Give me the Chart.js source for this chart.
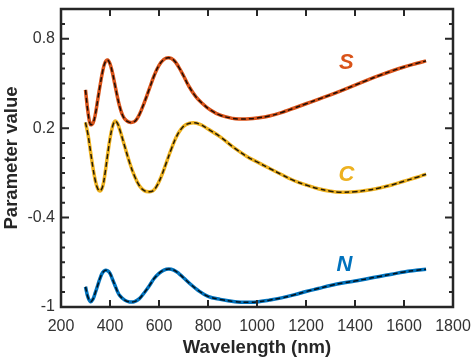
<!DOCTYPE html>
<html>
<head>
<meta charset="utf-8">
<script src="https://cdn.jsdelivr.net/npm/chart.js@4.4.0/dist/chart.umd.min.js"></script>
<style>
  html, body { margin: 0; padding: 0; background: #fff; }
  #wrap { width: 474px; height: 361px; }
</style>
</head>
<body>
<div id="wrap"><canvas id="paramChart" width="474" height="361"></canvas></div>
<script>
// Curvas S, C, N em função do comprimento de onda
const wlS = [300,310,320,330,340,350,360,370,380,390,400,410,420,430,440,450,460,475,490,505,520,540,560,580,600,620,640,660,680,700,720,750,780,810,850,900,930,970,1000,1050,1100,1150,1200,1250,1300,1350,1400,1450,1500,1550,1600,1650,1690];
const valS = [0.457,0.31,0.225,0.232,0.292,0.392,0.492,0.582,0.642,0.658,0.632,0.572,0.492,0.412,0.342,0.292,0.262,0.242,0.239,0.252,0.292,0.372,0.462,0.552,0.622,0.662,0.673,0.657,0.612,0.552,0.487,0.412,0.362,0.322,0.287,0.266,0.262,0.263,0.268,0.282,0.305,0.334,0.364,0.394,0.424,0.456,0.489,0.522,0.554,0.584,0.611,0.634,0.652];

const wlC = [300,310,320,330,340,350,360,370,380,390,400,410,420,430,440,460,480,500,520,540,560,575,590,610,630,650,670,690,710,740,770,800,850,910,960,1000,1050,1100,1150,1200,1250,1300,1340,1400,1450,1500,1550,1600,1650,1690];
const valC = [0.239,0.159,0.049,-0.061,-0.151,-0.206,-0.221,-0.191,-0.101,0.019,0.129,0.209,0.247,0.234,0.189,0.079,-0.031,-0.121,-0.186,-0.219,-0.226,-0.221,-0.191,-0.121,-0.031,0.059,0.139,0.194,0.224,0.236,0.224,0.194,0.142,0.064,0.009,-0.026,-0.069,-0.111,-0.151,-0.181,-0.206,-0.223,-0.230,-0.226,-0.216,-0.201,-0.181,-0.156,-0.131,-0.109];

const wlN = [300,310,320,330,340,350,360,370,380,390,400,410,420,430,440,460,480,500,520,540,560,580,600,620,640,660,680,700,730,760,800,850,910,970,1000,1050,1100,1150,1200,1250,1300,1350,1400,1450,1500,1550,1600,1650,1690];
const valN = [-0.864,-0.934,-0.964,-0.949,-0.904,-0.854,-0.804,-0.769,-0.754,-0.757,-0.774,-0.814,-0.854,-0.894,-0.924,-0.954,-0.966,-0.964,-0.944,-0.904,-0.859,-0.809,-0.774,-0.752,-0.745,-0.752,-0.774,-0.804,-0.849,-0.889,-0.929,-0.949,-0.964,-0.968,-0.966,-0.954,-0.939,-0.919,-0.896,-0.876,-0.856,-0.839,-0.826,-0.81,-0.795,-0.78,-0.765,-0.754,-0.746];

const xTicks = [200,400,600,800,1000,1200,1400,1600,1800];
const yTicks = [-1,-0.4,0.2,0.8];

const FONT = '"Liberation Sans", Arial, Helvetica, sans-serif';
const pts = (xs, ys) => xs.map((x, i) => ({ x: x, y: ys[i] }));

function par(xs, ys, cor) {
  return [
    { data: pts(xs, ys), borderColor: cor, borderWidth: 3.5, pointRadius: 0,
      tension: 0.4, order: 2 },
    { data: pts(xs, ys), borderColor: 'rgba(0,0,0,0.85)', borderWidth: 1.5, borderDash: [5, 3],
      pointRadius: 0, tension: 0.4, order: 1 }
  ];
}

// moldura e ticks para dentro, estilo MATLAB
const moldura = {
  id: 'moldura',
  afterDraw(chart) {
    const { ctx, chartArea: a, scales: { x, y } } = chart;
    ctx.save();
    ctx.strokeStyle = '#262626';
    ctx.lineWidth = 2.5;
    ctx.strokeRect(a.left, a.top, a.right - a.left, a.bottom - a.top);
    ctx.lineWidth = 2;
    ctx.beginPath();
    xTicks.forEach(v => {
      const px = x.getPixelForValue(v);
      ctx.moveTo(px, a.bottom); ctx.lineTo(px, a.bottom - 7);
      ctx.moveTo(px, a.top); ctx.lineTo(px, a.top + 7);
    });
    for (let i = 0; i <= 20; i++) {
      const v = -1 + i * 0.1;
      const py = y.getPixelForValue(v);
      const len = (i % 6 === 0) ? 8 : 4;
      ctx.moveTo(a.left, py); ctx.lineTo(a.left + len, py);
      ctx.moveTo(a.right, py); ctx.lineTo(a.right - len, py);
    }
    ctx.stroke();

    ctx.font = 'italic bold 22px ' + FONT;
    ctx.textAlign = 'center';
    ctx.textBaseline = 'middle';
    [['S', 1365, 0.638, '#d95319'], ['C', 1365, -0.114, '#edb120'], ['N', 1357, -0.718, '#0072bd']]
      .forEach(([t, lx, ly, c]) => {
        ctx.fillStyle = c;
        ctx.fillText(t, x.getPixelForValue(lx), y.getPixelForValue(ly));
      });
    ctx.restore();
  }
};

new Chart(document.getElementById('paramChart').getContext('2d'), {
  type: 'line',
  data: {
    datasets: [
      ...par(wlS, valS, '#d95319'),
      ...par(wlC, valC, '#edb120'),
      ...par(wlN, valN, '#0072bd')
    ]
  },
  options: {
    responsive: false,
    animation: false,
    layout: { padding: { top: 9, right: 21, left: 0, bottom: 0 } },
    plugins: { legend: { display: false }, tooltip: { enabled: false } },
    scales: {
      x: {
        type: 'linear', min: 200, max: 1800,
        afterBuildTicks: s => { s.ticks = xTicks.map(v => ({ value: v })); },
        afterFit: s => { s.height = 54; },
        grid: { display: false }, border: { display: false },
        ticks: { color: '#333', font: { family: FONT, size: 16 }, padding: 2, maxRotation: 0,
                 callback: v => String(v) },
        title: { display: true, text: 'Wavelength (nm)', color: '#262626',
                 font: { family: FONT, size: 18.5, weight: 'bold' }, padding: { top: 0, bottom: 2 } }
      },
      y: {
        type: 'linear', min: -1, max: 1,
        afterBuildTicks: s => { s.ticks = yTicks.map(v => ({ value: v })); },
        afterFit: s => { s.width = 61; },
        grid: { display: false }, border: { display: false },
        ticks: { color: '#333', font: { family: FONT, size: 16 }, padding: -2,
                 callback: v => String(v) },
        title: { display: true, text: 'Parameter value', color: '#262626',
                 font: { family: FONT, size: 18.5, weight: 'bold' }, padding: { top: 1, bottom: 0 } }
      }
    }
  },
  plugins: [moldura]
});
</script>
</body>
</html>
